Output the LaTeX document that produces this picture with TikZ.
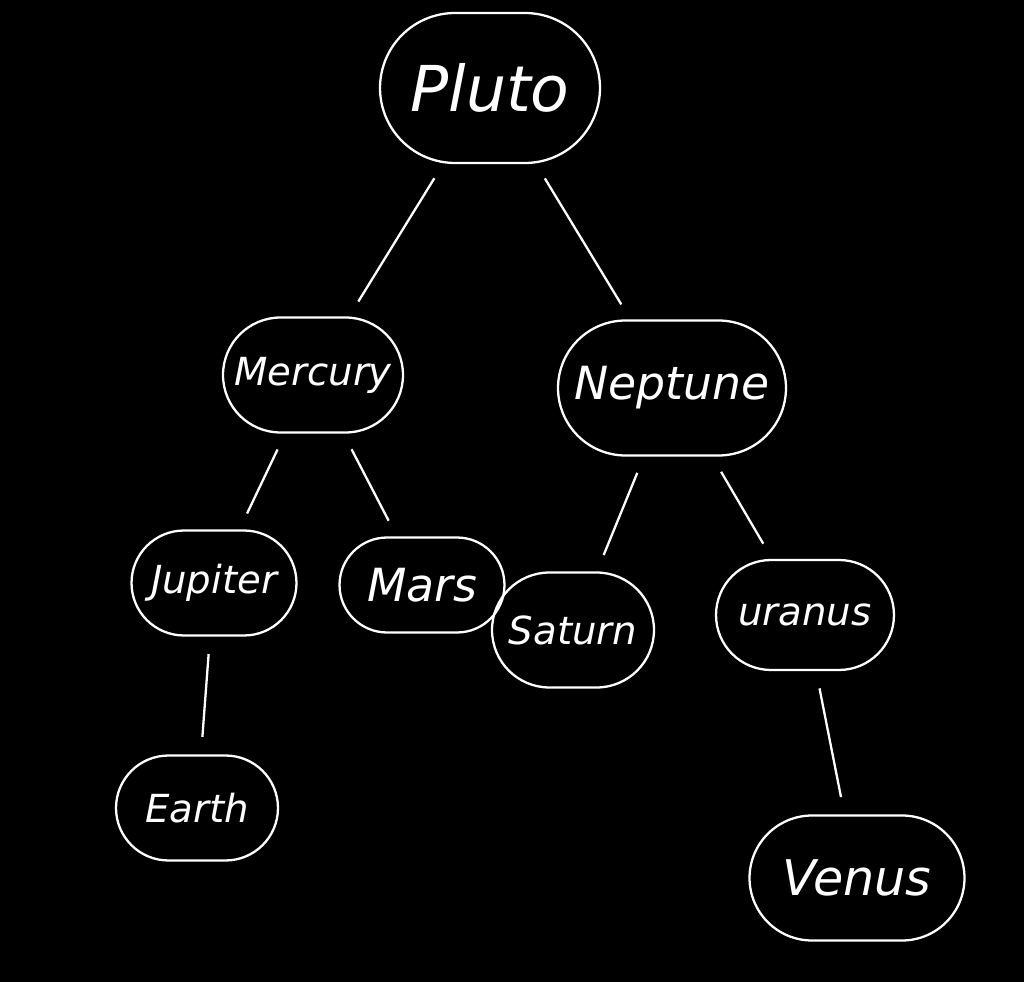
\documentclass[tikz,border=0pt]{standalone}
\usepackage{fontspec}
\setmainfont{DejaVu Sans}
\usetikzlibrary{shapes.misc}
\begin{document}
\begin{tikzpicture}[x=0.02cm,y=-0.02cm,
  planet/.style={draw=white,line width=1.3pt,rounded rectangle,text=white,font=\fontsize{22}{24}\selectfont\itshape,inner sep=0pt},
  link/.style={draw=white,line width=1.3pt,shorten >=10pt,shorten <=10pt}]
\fill[black] (0,0) rectangle (1024,982);
\useasboundingbox (0,0) rectangle (1024,982);
\node[planet,minimum width=4.4cm,minimum height=3cm,font=\fontsize{36}{40}\selectfont\itshape] (pluto) at (490,88) {Pluto};
\node[planet,minimum width=3.6cm,minimum height=2.3cm] (mercury) at (313,375) {Mercury};
\node[planet,minimum width=4.56cm,minimum height=2.7cm,font=\fontsize{26}{28}\selectfont\itshape] (neptune) at (672,388) {Neptune};
\node[planet,minimum width=3.3cm,minimum height=2.1cm] (jupiter) at (214,583) {Jupiter};
\node[planet,minimum width=3.3cm,minimum height=1.9cm,font=\fontsize{26}{28}\selectfont\itshape] (mars) at (422,585) {Mars};
\node[planet,minimum width=3.24cm,minimum height=2.3cm] (saturn) at (573,630) {Saturn};
\node[planet,minimum width=3.56cm,minimum height=2.2cm] (uranus) at (805,615) {uranus};
\node[planet,minimum width=3.24cm,minimum height=2.1cm] (earth) at (197,808) {Earth};
\node[planet,minimum width=4.3cm,minimum height=2.5cm,font=\fontsize{28}{30}\selectfont\itshape] (venus) at (857,878) {Venus};
\draw[link] (pluto) -- (mercury);
\draw[link] (pluto) -- (neptune);
\draw[link] (mercury) -- (jupiter);
\draw[link] (mercury) -- (mars);
\draw[link] (neptune) -- (saturn);
\draw[link] (neptune) -- (uranus);
\draw[link] (jupiter) -- (earth);
\draw[link] (uranus) -- (venus);
\end{tikzpicture}
\end{document}
